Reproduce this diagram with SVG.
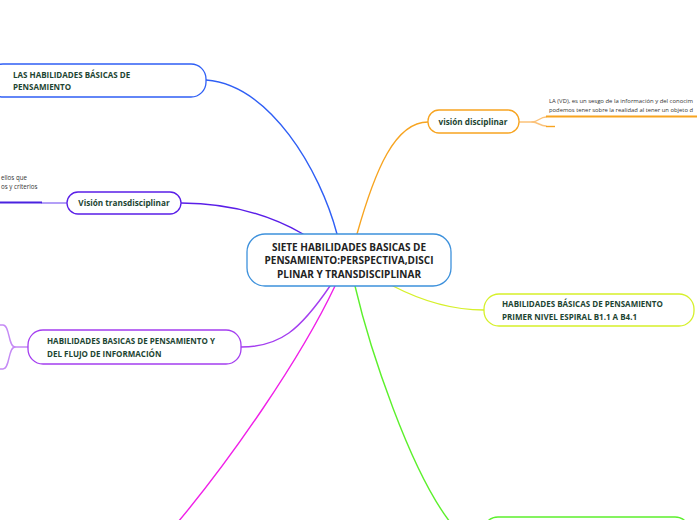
<svg xmlns="http://www.w3.org/2000/svg" width="697" height="520" viewBox="0 0 697 520">
<style>
.node{fill:#fff;stroke-width:1.3}
.lbl{font-family:"Open Sans","Noto Sans",sans-serif;font-weight:bold;fill:#1d4532;font-size:8px}
.ctr{font-family:"Open Sans","Noto Sans",sans-serif;font-weight:bold;fill:#222;font-size:10px;text-anchor:middle}
.note{font-family:"Open Sans","Noto Sans",sans-serif;fill:#333;font-size:6.2px}
.c{fill:none;stroke-width:1.4;stroke-linecap:round}
</style>
<rect width="697" height="520" fill="#fff"/>
<g id="connectors">
<path class="c" stroke="#2f5ff5" d="M337,234 C320,170 270,85 206,80"/>
<path class="c" stroke="#f7a420" d="M357,234 C375,170 395,122 428,122"/>
<path class="c" stroke="#5a1ee8" d="M303,234 C270,215 230,203 181,203"/>
<path class="c" stroke="#a43ef0" d="M330,286 C300,330 280,347 241,347"/>
<path class="c" stroke="#d6f02a" d="M393,286 C420,300 450,310 484,310"/>
<path class="c" stroke="#f020e8" d="M335,286 C300,360 230,460 178,522"/>
<path class="c" stroke="#5cf02c" d="M355,286 C370,350 410,470 450,522"/>
<path class="c" stroke="#fbc27a" d="M519,122 L532,122 C538,122 540,117 546,117"/>
<path class="c" stroke="#fbc27a" d="M532,122 C538,122 540,126 546,126"/>
<path fill="none" stroke="#f7a420" stroke-width="1.8" d="M546,116.5 L697,116.5"/>
<path fill="none" stroke="#f7a420" stroke-width="1.4" d="M546,126.5 L555,126.5"/>
<path class="c" stroke="#9a80f5" d="M67,203 L42,203"/>
<path fill="none" stroke="#4a22e0" stroke-width="1.8" d="M0,202.5 L42,202.5"/>
<path class="c" stroke="#c58af5" d="M28,347 L15,347 C8,347 10,325 3,325 L0,325"/>
<path class="c" stroke="#c58af5" d="M15,347 C8,347 10,369 3,369 L0,369"/>
</g>
<g id="center">
<rect class="node" x="247" y="234" width="204" height="52" rx="18" stroke="#3d91dc"/>
<text class="ctr" x="349" y="251">SIETE HABILIDADES BASICAS DE</text>
<text class="ctr" x="349" y="264">PENSAMIENTO:PERSPECTIVA,DISCI</text>
<text class="ctr" x="349" y="278">PLINAR Y TRANSDISCIPLINAR</text>
</g>
<g id="n-basicas">
<rect class="node" x="-12" y="64" width="218" height="33" rx="15" stroke="#2f5ff5"/>
<text class="lbl" x="13" y="78">LAS HABILIDADES BÁSICAS DE</text>
<text class="lbl" x="13" y="90">PENSAMIENTO</text>
</g>
<g id="n-trans">
<rect class="node" x="67" y="192" width="114" height="22" rx="11" stroke="#5a1ee8"/>
<text class="lbl" x="124" y="206" text-anchor="middle" style="font-size:8.2px">Visión transdisciplinar</text>
<text class="note" x="1" y="180">ellos que</text>
<text class="note" x="1" y="189">os y criterios</text>
</g>
<g id="n-flujo">
<rect class="node" x="28" y="330" width="213" height="34" rx="15" stroke="#a43ef0"/>
<text class="lbl" x="47" y="344">HABILIDADES BASICAS DE PENSAMIENTO Y</text>
<text class="lbl" x="47" y="357">DEL FLUJO DE INFORMACIÓN</text>
</g>
<g id="n-disc">
<rect class="node" x="428" y="110" width="91" height="23" rx="11" stroke="#f7a420"/>
<text class="lbl" x="473" y="125" text-anchor="middle" style="font-size:8.2px">visión disciplinar</text>
<text class="note" x="549" y="103" style="font-size:5.6px" textLength="144" lengthAdjust="spacingAndGlyphs">LA (VD), es un sesgo de la información y del conocim</text>
<text class="note" x="549" y="112" style="font-size:5.6px" textLength="144" lengthAdjust="spacingAndGlyphs">podemos tener sobre la realidad al tener un objeto d</text>
</g>
<g id="n-primer">
<rect class="node" x="484" y="294" width="210" height="32" rx="15" stroke="#d6f02a"/>
<text class="lbl" x="502" y="307">HABILIDADES BÁSICAS DE PENSAMIENTO</text>
<text class="lbl" x="502" y="320">PRIMER NIVEL ESPIRAL B1.1 A B4.1</text>
</g>
<g id="n-green">
<rect class="node" x="483" y="517" width="207" height="30" rx="15" stroke="#5cf02c"/>
</g>
</svg>
